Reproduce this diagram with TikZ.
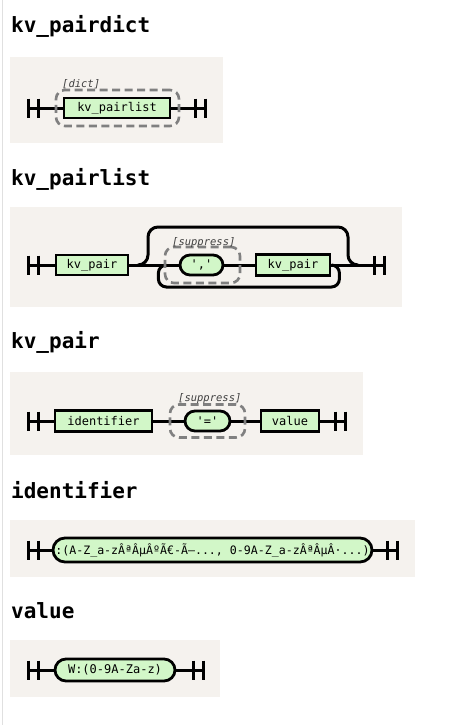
\documentclass[tikz,border=0pt]{standalone}
\usepackage{fontspec}
\setmonofont{DejaVu Sans Mono}
\usetikzlibrary{shapes.misc}
\definecolor{panel}{HTML}{F5F2EE}
\definecolor{boxgreen}{HTML}{D2F7C8}
\definecolor{grpgray}{HTML}{808080}
\definecolor{labgray}{HTML}{404040}
\pgfdeclarelayer{bg}
\pgfdeclarelayer{rails}
\pgfsetlayers{bg,rails,main}
\begin{document}
\begin{tikzpicture}[x=1pt,y=-1pt,
  title/.style={anchor=base west, inner sep=0, font=\fontsize{21}{24}\selectfont\ttfamily\bfseries},
  rail/.style={line width=3pt, draw=black},
  nt/.style={rectangle, draw=black, line width=2.8pt, fill=boxgreen, inner sep=0,
    font=\fontsize{12}{14}\selectfont\ttfamily},
  tm/.style={rounded rectangle, draw=black, line width=2.8pt, fill=boxgreen, inner sep=0,
    font=\fontsize{12}{14}\selectfont\ttfamily},
  grp/.style={rectangle, draw=grpgray, dash pattern=on 8pt off 4.5pt, line width=2.6pt,
    rounded corners=9pt, inner sep=0},
  glabel/.style={anchor=base west, inner sep=0, text=labgray,
    font=\fontsize{10.5}{12}\selectfont\ttfamily\itshape},
]
\useasboundingbox (0,0) rectangle (474,725);
\begin{pgfonlayer}{bg}
  \fill[white] (0,0) rectangle (474,725);
  \draw[black!12, line width=1pt] (2.5,0) -- (2.5,725);
  \fill[panel] (10,57) rectangle (223,143);
  \fill[panel] (10,207) rectangle (402,307);
  \fill[panel] (10,372) rectangle (363,455);
  \fill[panel] (10,520) rectangle (415,577);
  \fill[panel] (10,640) rectangle (220,697);
\end{pgfonlayer}

% titles
\node[title] (t1) at (11,33) {kv\_pairdict};
\node[title] (t2) at (11,185) {kv\_pairlist};
\node[title] (t3) at (11,348) {kv\_pair};
\node[title] (t4) at (11,498) {identifier};
\node[title] (t5) at (11,618) {value};

% ---------- kv_pairdict
\coordinate (s1) at (28,108);
\coordinate (e1) at (205,108);
\node[grp, minimum width=123, minimum height=36] (g1) at (117.5,108) {};
\node[glabel] (g1l) at (62,88) {[dict]};
\node[nt, minimum width=106, minimum height=20] (d1) at (117,108) {kv\_pairlist};

% ---------- kv_pairlist
\coordinate (s2) at (28,265);
\coordinate (e2) at (384,265);
\coordinate (j1) at (138,265);
\coordinate (j2) at (358,265);
\node[nt, minimum width=72, minimum height=20] (kv1) at (92,265) {kv\_pair};
\node[grp, minimum width=75, minimum height=36] (g2) at (202.5,265) {};
\node[glabel] (g2l) at (172,245) {[suppress]};
\node[tm, minimum width=43, minimum height=20] (comma) at (201.5,265) {','};
\node[nt, minimum width=74, minimum height=21] (kv2) at (293,265) {kv\_pair};

% ---------- kv_pair
\coordinate (s3) at (28,421);
\coordinate (e3) at (345,421);
\node[nt, minimum width=97, minimum height=21] (id) at (103.5,421) {identifier};
\node[grp, minimum width=75, minimum height=33] (g3) at (207.5,421) {};
\node[glabel] (g3l) at (178,401) {[suppress]};
\node[tm, minimum width=45, minimum height=20] (eq) at (207.5,421) {'='};
\node[nt, minimum width=58, minimum height=21] (val) at (290,421) {value};

% ---------- identifier
\coordinate (s4) at (28,550);
\coordinate (e4) at (397,550);
\node[tm, minimum width=319, minimum height=24, font=\fontsize{11.6}{14}\selectfont\ttfamily] (idre) at (212.5,550) {:(A-Z\_a-zÂªÂµÂºÃ€-Ã–..., 0-9A-Z\_a-zÂªÂµÂ·...)};

% ---------- value
\coordinate (s5) at (28,670);
\coordinate (e5) at (203,670);
\node[tm, minimum width=120, minimum height=22] (valre) at (115,670) {W:(0-9A-Za-z)};

\begin{pgfonlayer}{rails}
  % start / end markers
  \foreach \s in {s1,s2,s3,s4,s5}{
    \draw[rail] (\s) +(0,-9.5) -- +(0,9.5) +(10,-9.5) -- +(10,9.5);
  }
  \foreach \e in {e1,e2,e3,e4,e5}{
    \draw[rail] (\e) +(-10,-9.5) -- +(-10,9.5) +(0,-9.5) -- +(0,9.5);
  }
  % kv_pairdict
  \draw[rail] (s1) -- (d1.west);
  \draw[rail] (d1.east) -- (e1);
  % kv_pairlist
  \draw[rail] (s2) -- (kv1.west);
  \draw[rail] (kv1.east) -- (comma.west);
  \draw[rail] (comma.east) -- (kv2.west);
  \draw[rail] (kv2.east) -- (e2);
  \draw[rail, rounded corners=10pt] (j1) -- ++(10,0) -- ++(0,-38) -- ++(200,0) -- ++(0,38) -- (j2);
  \draw[rail, rounded corners=8pt] (kv2.east) -- ++(8,0) -- ++(0,22) -- ++(-181,0) -- ++(0,-22) -- ++(8,0);
  % kv_pair
  \draw[rail] (s3) -- (id.west);
  \draw[rail] (id.east) -- (eq.west);
  \draw[rail] (eq.east) -- (val.west);
  \draw[rail] (val.east) -- (e3);
  % identifier
  \draw[rail] (s4) -- (idre.west);
  \draw[rail] (idre.east) -- (e4);
  % value
  \draw[rail] (s5) -- (valre.west);
  \draw[rail] (valre.east) -- (e5);
\end{pgfonlayer}
\end{tikzpicture}
\end{document}
